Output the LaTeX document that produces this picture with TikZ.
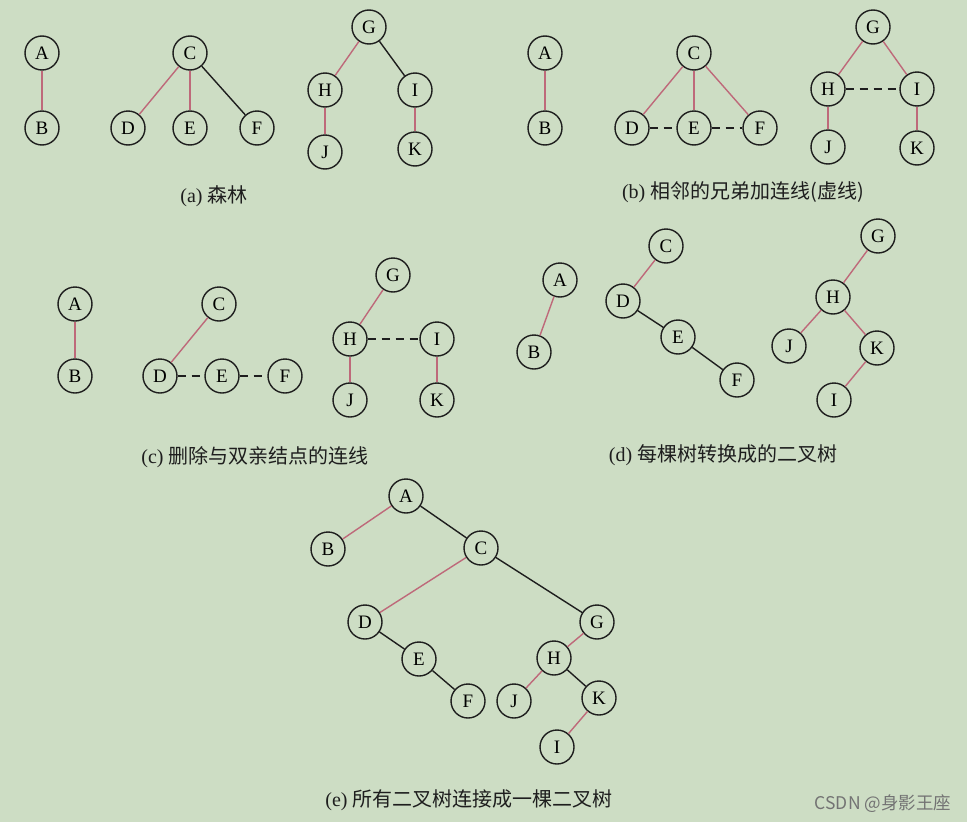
\documentclass[tikz,border=0pt]{standalone}
\usepackage{fontspec}
\setmainfont{Liberation Serif}
\newfontfamily\cjk{Noto Sans CJK SC}
\usetikzlibrary{positioning}
\definecolor{bgreen}{RGB}{205, 221, 196}
\definecolor{pink1}{RGB}{190, 105, 122}
\definecolor{dark1}{RGB}{30, 30, 30}

\begin{document}
\begin{tikzpicture}[
  x=1pt, y=-1pt,
  vtx/.style={draw=dark1, circle, line width=1.4pt, minimum size=34pt, inner sep=0pt, font=\fontsize{19}{19}\selectfont},
  pedge/.style={draw=pink1, line width=1.4pt},
  kedge/.style={draw=dark1, line width=1.4pt},
  dedge/.style={draw=dark1, line width=1.4pt, dash pattern=on 8pt off 6pt},
  captext/.style={font=\fontsize{20}{20}\selectfont, text=dark1}
]
  \fill[bgreen] (0,0) rectangle (967,822);
  \useasboundingbox (0,0) rectangle (967,822);

  % (a) forest
  \foreach \n/\x/\y in {A/42/53, B/42/128, C/190/53, D/128/128, E/190/128, F/257/128,
                        G/369/27, H/325/90, I/415/90, J/325/152, K/415/149}
    \node[vtx] (a\n) at (\x,\y) {\n};
  \foreach \s/\t in {A/B, C/D, C/E, G/H, H/J, I/K}
    \draw[pedge] (a\s) -- (a\t);
  \foreach \s/\t in {C/F, G/I}
    \draw[kedge] (a\s) -- (a\t);
  \node[captext] (acap) at (214,196) {(a) {\cjk 森林}};

  % (b) siblings linked
  \foreach \n/\x/\y in {A/545/53, B/545/128, C/694/53, D/632/128, E/694/128, F/760/128,
                        G/873/27, H/828/89, I/917/89, J/828/147, K/917/148}
    \node[vtx] (b\n) at (\x,\y) {\n};
  \foreach \s/\t in {A/B, C/D, C/E, C/F, G/H, G/I, H/J, I/K}
    \draw[pedge] (b\s) -- (b\t);
  \foreach \s/\t in {D/E, E/F, H/I}
    \draw[dedge] (b\s) -- (b\t);
  \node[captext] (bcap) at (743,192) {(b) {\cjk 相邻的兄弟加连线(虚线)}};

  % (c) parent links removed
  \foreach \n/\x/\y in {A/75/304, B/75/376, C/219/304, D/160/376, E/222/376, F/285/376,
                        G/393/275, H/350/339, I/437/339, J/350/400, K/437/400}
    \node[vtx] (c\n) at (\x,\y) {\n};
  \foreach \s/\t in {A/B, C/D, G/H, H/J, I/K}
    \draw[pedge] (c\s) -- (c\t);
  \foreach \s/\t in {D/E, E/F, H/I}
    \draw[dedge] (c\s) -- (c\t);
  \node[captext] (ccap) at (255,457) {(c) {\cjk 删除与双亲结点的连线}};

  % (d) each tree as binary tree
  \foreach \n/\x/\y in {A/560/280, B/534/352, C/666/246, D/623/301, E/678/337, F/737/380,
                        G/878/236, H/833/297, J/789/346, K/877/348, I/834/400}
    \node[vtx] (d\n) at (\x,\y) {\n};
  \foreach \s/\t in {A/B, C/D, G/H, H/J, H/K, K/I}
    \draw[pedge] (d\s) -- (d\t);
  \foreach \s/\t in {D/E, E/F}
    \draw[kedge] (d\s) -- (d\t);
  \node[captext] (dcap) at (723,455) {(d) {\cjk 每棵树转换成的二叉树}};

  % (e) one binary tree
  \foreach \n/\x/\y in {A/406/496, B/328/549, C/481/548, D/365/622, G/597/622, E/419/659,
                        H/554/658, F/468/701, J/514/701, K/599/698, I/557/747}
    \node[vtx] (e\n) at (\x,\y) {\n};
  \foreach \s/\t in {A/B, C/D, G/H, H/J, K/I}
    \draw[pedge] (e\s) -- (e\t);
  \foreach \s/\t in {A/C, C/G, D/E, E/F, H/K}
    \draw[kedge] (e\s) -- (e\t);
  \node[captext] (ecap) at (469,800) {(e) {\cjk 所有二叉树连接成一棵二叉树}};

  \node[font=\cjk\fontsize{17.5}{17.5}\selectfont, text=black!55] (mark) at (883,804) {CSDN @身影王座};
\end{tikzpicture}
\end{document}
